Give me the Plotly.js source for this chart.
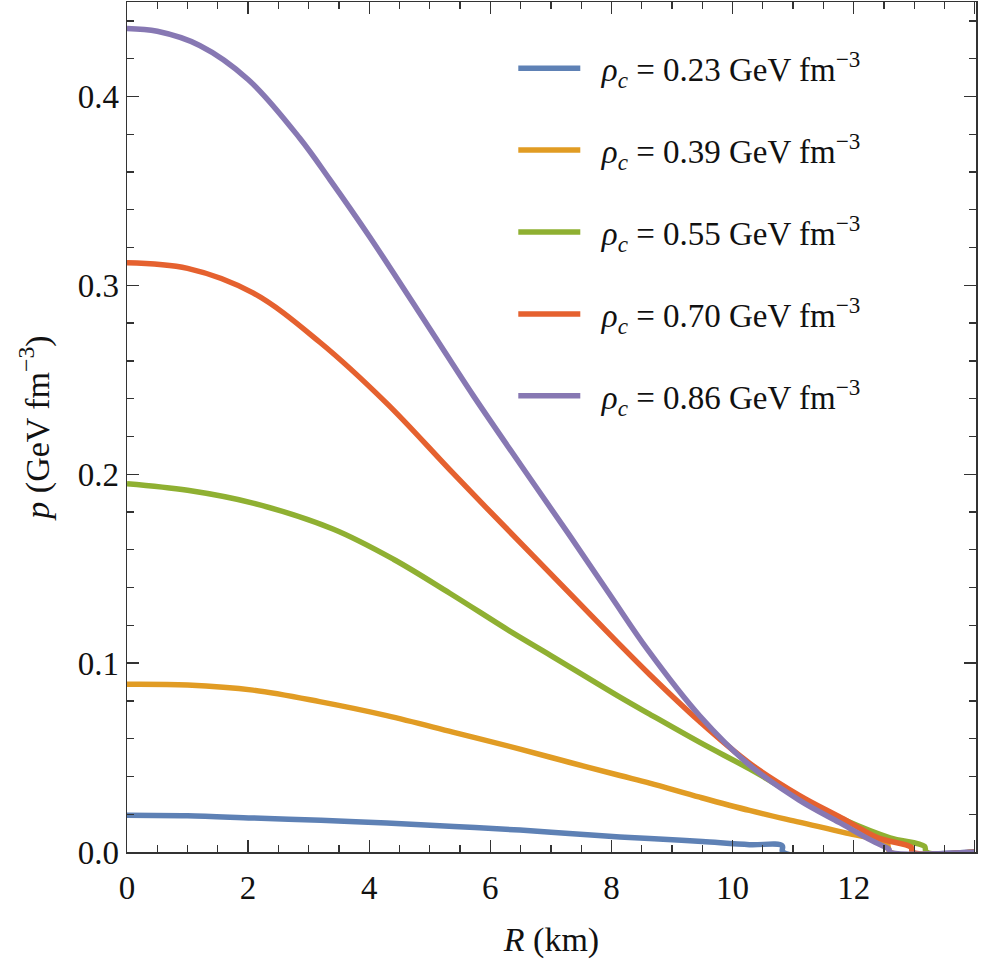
<!DOCTYPE html>
<html>
<head>
<meta charset="utf-8">
<script src="https://cdn.plot.ly/plotly-3.0.1.min.js"></script>
<style>
html,body{margin:0;padding:0;background:#fff;}
#chart{width:990px;height:973px;}
#chart svg text{font-family:"Liberation Serif","Times New Roman",serif !important;}
</style>
</head>
<body>
<div id="chart"></div>
<script>
// Central densities (legend values)
const rhoC = ["0.23", "0.39", "0.55", "0.70", "0.86"];
const colors = ["#5E81B5", "#E19C24", "#8FB032", "#E5612F", "#8778B3"];

// R (km) and p (GeV fm^-3) for each curve
const R_023 = [0, 1.0, 2.08, 3.2, 4.29, 5.4, 6.49, 7.3, 8.14, 8.63, 9.5, 10.28, 10.82, 10.83, 14];
const p_023 = [0.0195, 0.0192, 0.018, 0.0168, 0.0153, 0.0135, 0.0116, 0.0098, 0.008, 0.0072, 0.0055, 0.0039, 0.0033, 0, 0];

const R_039 = [0, 1.0, 2.08, 3.18, 4.29, 5.38, 6.49, 7.3, 8.14, 8.63, 9.46, 10.28, 11.1, 11.88, 12.55, 12.6, 14];
const p_039 = [0.0888, 0.0884, 0.0857, 0.0796, 0.0722, 0.0635, 0.0545, 0.0475, 0.0405, 0.0365, 0.0290, 0.0220, 0.0158, 0.0100, 0.0045, 0, 0];

const R_055 = [0, 1.0, 2.08, 3.4, 4.4, 5.33, 6.37, 7.0, 8.14, 8.63, 9.46, 10.28, 11.1, 11.88, 12.6, 13.17, 13.2, 14];
const p_055 = [0.195, 0.1915, 0.1847, 0.171, 0.155, 0.137, 0.116, 0.104, 0.082, 0.073, 0.058, 0.044, 0.029, 0.0165, 0.0075, 0.003, 0, 0];

const R_070 = [0, 1.0, 2.08, 3.18, 4.29, 5.4, 6.7, 7.4, 8.1, 8.63, 9.46, 10.28, 11.1, 11.8, 12.4, 12.95, 12.97, 14];
const p_070 = [0.312, 0.309, 0.296, 0.270, 0.2375, 0.200, 0.157, 0.134, 0.111, 0.094, 0.069, 0.047, 0.030, 0.018, 0.0075, 0.0025, 0, 0];

const R_086 = [0, 0.5, 1.2, 2.0, 2.85, 3.35, 4.0, 5.0, 5.71, 6.5, 7.3, 8.0, 8.6, 9.46, 10.28, 11.1, 11.77, 12.3, 12.58, 12.6, 14];
const p_086 = [0.436, 0.4345, 0.427, 0.409, 0.378, 0.356, 0.326, 0.277, 0.242, 0.205, 0.168, 0.135, 0.107, 0.072, 0.046, 0.0275, 0.0155, 0.006, 0.0015, 0, 0];

const Rs = [R_023, R_039, R_055, R_070, R_086];
const ps = [p_023, p_039, p_055, p_070, p_086];

const xTickVals = [0, 2, 4, 6, 8, 10, 12, 14];
const yTickVals = [0, 0.1, 0.2, 0.3, 0.4];

const serif = "Liberation Serif";

const traces = rhoC.map((r, i) => ({
  x: Rs[i], y: ps[i],
  type: "scatter", mode: "lines",
  line: {color: colors[i], width: 5.5, shape: "spline", smoothing: 1},
  name: "\u2002<i>\u03C1</i><sub><i>c</i></sub> = " + r + " GeV fm<sup>\u22123</sup>",
  legendgroup: "g" + i
}));

const axisCommon = {
  showline: true, linecolor: "#333", linewidth: 1.5, mirror: "allticks",
  ticks: "inside", ticklen: 12, tickwidth: 1.3, tickcolor: "#333",
  showgrid: false, zeroline: false,
  tickfont: {family: serif, size: 33, color: "#111"}
};

const layout = {
  width: 990, height: 973,
  margin: {l: 127, r: 14, t: 2, b: 121},
  paper_bgcolor: "#fff", plot_bgcolor: "#fff",
  font: {family: serif, size: 33, color: "#111"},
  showlegend: true,
  legend: {
    x: 0.455, y: 0.955, xanchor: "left", yanchor: "top",
    bgcolor: "rgba(0,0,0,0)", borderwidth: 0,
    itemwidth: 62, tracegroupgap: 36,
    font: {family: serif, size: 33, color: "#111"}
  },
  xaxis: Object.assign({}, axisCommon, {
    range: [0, 14.02], tickvals: xTickVals, ticktext: xTickVals.map(String),
    minor: {ticks: "inside", ticklen: 7, tickwidth: 1.3, tickcolor: "#333", dtick: 0.5, tick0: 0},
    ticklabelstandoff: 6,
    title: {text: "<i>R</i> (km)", font: {family: serif, size: 34, color: "#111"}, standoff: 22}
  }),
  yaxis: Object.assign({}, axisCommon, {
    range: [0, 0.45], tickvals: yTickVals, ticktext: yTickVals.map(v => v.toFixed(1)),
    minor: {ticks: "inside", ticklen: 7, tickwidth: 1.3, tickcolor: "#333", dtick: 0.02, tick0: 0},
    title: {text: "<i>p</i> (GeV fm<sup>\u22123</sup>)", font: {family: serif, size: 34, color: "#111"}, standoff: 18}
  })
};

Plotly.newPlot("chart", traces, layout, {staticPlot: true, displayModeBar: false});
</script>
</body>
</html>
